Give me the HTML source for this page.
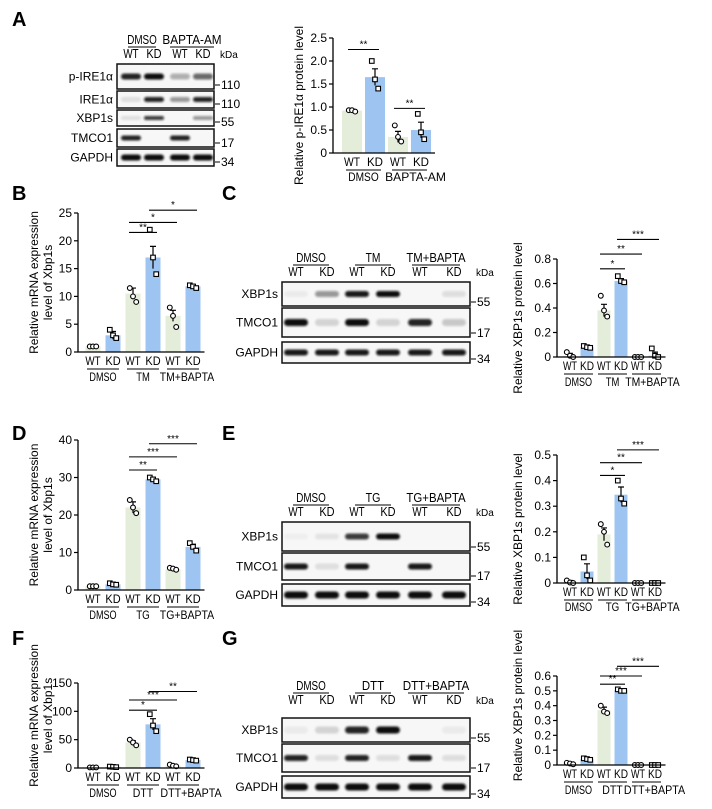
<!DOCTYPE html>
<html><head><meta charset="utf-8">
<style>
html,body{margin:0;padding:0;background:#fff;}
svg{display:block;font-family:"Liberation Sans",Arial,sans-serif;}
</style></head>
<body>
<svg id="fig" width="712" height="809" viewBox="0 0 712 809" xmlns="http://www.w3.org/2000/svg">
<defs><filter id="bl" x="-20%" y="-100%" width="140%" height="300%"><feGaussianBlur stdDeviation="1.1"/></filter></defs>
<g font-weight="bold" font-size="20">
<text x="12" y="26">A</text>
<text x="12" y="200">B</text>
<text x="222" y="200">C</text>
<text x="12" y="440">D</text>
<text x="222" y="440">E</text>
<text x="12" y="645">F</text>
<text x="222" y="645">G</text>
</g>
</svg>
<script>
// ---- chart data ----
const aMeans=[0.92,1.65,0.35,0.5];
const aErr=[0.03,0.18,0.12,0.17];
const aPts=[[0.93,0.93,0.9],[2.0,1.6,1.4],[0.6,0.35,0.25],[0.85,0.45,0.3]];
const aTicks=[0,0.5,1.0,1.5,2.0,2.5];
const aTickLabels=["0","0.5","1.0","1.5","2.0","2.5"];

const bMeans=[1,3,10.5,17,6.5,11.8];
const bErr=[0.1,0.7,1,2,1,0.3];
const bPts=[[1,1,1],[4,3,2.5],[11.5,10,9],[22,17,14],[8,6.5,4.5],[12,11.8,11.5]];
const bTicks=[0,5,10,15,20,25];

const cMeans=[0.01,0.08,0.38,0.62,0,0.01];
const cErr=[0.02,0.01,0.05,0.02,0,0.03];
const cPts=[[0.04,0.01,0],[0.09,0.08,0.075],[0.5,0.38,0.33],[0.66,0.62,0.61],[0,0,0],[0.07,0.01,0]];
const cTicks=[0,0.2,0.4,0.6,0.8];
const cTickLabels=["0","0.2","0.4","0.6","0.8"];

const dMeans=[1,1.5,22,29.5,5.5,11.5];
const dErr=[0.1,0.3,1.5,0.5,0.3,0.7];
const dPts=[[1,1,1],[1.8,1.5,1.4],[24,22,20.5],[30,29.5,29],[5.9,5.7,5.4],[12.5,11.5,10.5]];
const dTicks=[0,10,20,30,40];

const eMeans=[0.005,0.045,0.19,0.345,0,0];
const eErr=[0.005,0.03,0.025,0.03,0,0];
const ePts=[[0.01,0.002,0],[0.1,0.03,0.01],[0.23,0.2,0.15],[0.4,0.33,0.31],[0,0,0],[0,0,0]];
const eTicks=[0,0.1,0.2,0.3,0.4,0.5];
const eTickLabels=["0","0.1","0.2","0.3","0.4","0.5"];

const fMeans=[1,2,45,77,4,14];
const fErr=[0.2,0.5,3,10,1,1];
const fPts=[[1,1,1],[2.5,2,1.5],[50,45,40],[95,75,65],[6,4,3],[15,14,13]];
const fTicks=[0,50,100,150];

const gMeans=[0.01,0.04,0.37,0.505,0,0];
const gErr=[0.005,0.005,0.02,0.005,0,0];
const gPts=[[0.015,0.01,0.005],[0.045,0.04,0.035],[0.4,0.36,0.35],[0.51,0.5,0.5],[0,0,0],[0,0,0]];
const gTicks=[0,0.1,0.2,0.3,0.4,0.5,0.6];
const gTickLabels=["0","0.1","0.2","0.3","0.4","0.5","0.6"];

const svg=document.getElementById('fig');
const NS='http://www.w3.org/2000/svg';
function mk(tag,attrs,parent,txt){const e=document.createElementNS(NS,tag);for(const k in attrs)e.setAttribute(k,attrs[k]);if(txt!==undefined)e.textContent=txt;(parent||svg).appendChild(e);return e;}
function narrow(el,txt,per){el.setAttribute('textLength',(txt.length*per).toFixed(1));el.setAttribute('lengthAdjust','spacingAndGlyphs');}

function chart(o){
  const g=mk('g',{});
  
  
  const ymax=o.ticks[o.ticks.length-1];
  const Y=v=>o.y0-(v/ymax)*(o.y0-o.yTop);
  const X=i=>o.start+i*o.step;
  const xEnd=X(o.means.length-1)+o.w/2+4;
  o.means.forEach((m,i)=>{
    const r=mk('rect',{x:X(i)-o.w/2,y:Y(m),width:o.w,height:o.y0-Y(m),fill:i%2?'#9ec4f2':'#e3edd9'},g);
    
    
    const t=Y(m+o.err[i]),b=Y(Math.max(0,m-o.err[i]));
    mk('path',{d:`M${X(i)} ${t}V${b}M${X(i)-3} ${t}H${X(i)+3}`,stroke:'#000','stroke-width':1.2,fill:'none'},g);
    o.pts[i].forEach((p,j)=>{
      const px=X(i)+(j-1)*3.2,py=Y(p);
      if(i%2==0){const c=mk('circle',{cx:px,cy:py,r:2.4,fill:'#fff',stroke:'#000','stroke-width':1.1},g);
        }
      else{const s=mk('rect',{x:px-2.3,y:py-2.3,width:4.6,height:4.6,fill:'#fff',stroke:'#000','stroke-width':1.1},g);
        }
    });
  });
  mk('path',{d:`M${o.x0} ${o.yTop}V${o.y0}H${xEnd}`,stroke:'#000','stroke-width':1.3,fill:'none'},g);
  o.ticks.forEach((t,i)=>{
    mk('path',{d:`M${o.x0-4} ${Y(t)}H${o.x0}`,stroke:'#000','stroke-width':1.2},g);
    const tl=mk('text',{x:o.x0-6,y:Y(t)+4,'text-anchor':'end','font-size':12},g,o.tickLabels?o.tickLabels[i]:String(t));
    
  });
  o.means.forEach((m,i)=>{
    const s=o.labels[i%2];
    const l=mk('text',{x:X(i),y:o.labY,'text-anchor':'middle','font-size':12},g,s);
    narrow(l,s,o.cw);
    
  });
  o.groups.forEach((gn,k)=>{
    const cx=(X(2*k)+X(2*k+1))/2;
    const a=X(2*k)-6,bb=X(2*k+1)+6;
    mk('path',{d:`M${a} ${o.labY+4}H${bb}`,stroke:'#000','stroke-width':1},g);
    const gl=mk('text',{x:cx+(o.gshift?o.gshift[k]:0),y:o.grpY,'text-anchor':'middle','font-size':12},g,gn);
    narrow(gl,gn,o.gw);
    
  });
  o.sigs.forEach(s=>{
    const y=Y(s[3]);
    mk('path',{d:`M${X(s[0])-4} ${y}H${X(s[1])+4}`,stroke:'#000','stroke-width':1.1},g);
    const st=mk('text',{x:(X(s[0])+X(s[1]))/2,y:y-2,'text-anchor':'middle','font-size':10},g,s[2]);
    
  });
  const tg=mk('text',{transform:`translate(${o.tx},${(o.yTop+o.y0)/2+o.tyOff}) rotate(-90)`,'text-anchor':'middle','font-size':12},g);
  
  o.title.forEach((ln,i)=>{mk('tspan',{x:0,dy:i?14:0},tg,ln);});
}

chart({name:'chart-a',x0:333,yTop:38,y0:153,ticks:aTicks,tickLabels:aTickLabels,start:352,step:23,w:20,means:aMeans,err:aErr,pts:aPts,labels:['WT','KD'],groups:['DMSO','BAPTA-AM'],gshift:[0,6],labY:166,grpY:181,cw:8,gw:7.6,sigs:[[0,1,'**',2.25],[2,3,'**',0.97]],title:['Relative p-IRE1α protein level'],tx:303,tyOff:10});
chart({name:'chart-b',x0:78,yTop:213,y0:352,ticks:bTicks,start:93,step:20,w:15,means:bMeans,err:bErr,pts:bPts,labels:['WT','KD'],groups:['DMSO','TM','TM+BAPTA'],gshift:[0,0,4],labY:365,grpY:381,cw:7.6,gw:6.8,sigs:[[2,3,'**',21.5],[2,4,'*',23.3],[3,5,'*',25.5]],title:['Relative mRNA expression','level of Xbp1s'],tx:38,tyOff:0});
chart({name:'chart-c',x0:557,yTop:259,y0:357,ticks:cTicks,tickLabels:cTickLabels,start:570,step:17,w:13,means:cMeans,err:cErr,pts:cPts,labels:['WT','KD'],groups:['DMSO','TM','TM+BAPTA'],gshift:[0,0,6],labY:370,grpY:386,cw:7,gw:6.8,sigs:[[2,3,'*',0.72],[2,4,'**',0.84],[3,5,'***',0.96]],title:['Relative XBP1s protein level'],tx:522,tyOff:10});
chart({name:'chart-d',x0:78,yTop:440,y0:590,ticks:dTicks,start:93,step:20,w:15,means:dMeans,err:dErr,pts:dPts,labels:['WT','KD'],groups:['DMSO','TG','TG+BAPTA'],gshift:[0,0,4],labY:603,grpY:619,cw:7.6,gw:6.8,sigs:[[2,3,'**',32],[2,4,'***',35.5],[3,5,'***',39]],title:['Relative mRNA expression','level of Xbp1s'],tx:38,tyOff:0});
chart({name:'chart-e',x0:557,yTop:455,y0:583,ticks:eTicks,tickLabels:eTickLabels,start:570,step:17,w:13,means:eMeans,err:eErr,pts:ePts,labels:['WT','KD'],groups:['DMSO','TG','TG+BAPTA'],gshift:[0,0,6],labY:596,grpY:611,cw:7,gw:6.8,sigs:[[2,3,'*',0.42],[2,4,'**',0.47],[3,5,'***',0.52]],title:['Relative XBP1s protein level'],tx:522,tyOff:10});
chart({name:'chart-f',x0:78,yTop:683,y0:768,ticks:fTicks,start:93,step:20,w:15,means:fMeans,err:fErr,pts:fPts,labels:['WT','KD'],groups:['DMSO','DTT','DTT+BAPTA'],gshift:[0,0,8],labY:781,grpY:797,cw:7.6,gw:6.8,sigs:[[2,3,'*',102],[2,4,'***',120],[3,5,'**',135]],title:['Relative mRNA expression','level of Xbp1s'],tx:38,tyOff:-10});
chart({name:'chart-g',x0:557,yTop:676,y0:765,ticks:gTicks,tickLabels:gTickLabels,start:570,step:17,w:13,means:gMeans,err:gErr,pts:gPts,labels:['WT','KD'],groups:['DMSO','DTT','DTT+BAPTA'],gshift:[0,0,8],labY:778,grpY:794,cw:7,gw:6.8,sigs:[[2,3,'**',0.545],[2,4,'***',0.6],[3,5,'***',0.665]],title:['Relative XBP1s protein level'],tx:522,tyOff:-15});

// ---- western blots ----
function blot(o){
  const g=mk('g',{});
  
  
  o.headers.forEach(h=>{
    const t=mk('text',{x:h[1],y:o.hy,'text-anchor':'middle','font-size':12.5},g,h[0]);
    narrow(t,h[0],7.4);
    
    mk('path',{d:`M${h[1]-h[2]} ${o.hy+3}H${h[1]+h[2]}`,stroke:'#000','stroke-width':1},g);
  });
  o.lanes.forEach((x,i)=>{
    const s=i%2?'KD':'WT';
    const t=mk('text',{x:x,y:o.hy+14,'text-anchor':'middle','font-size':12.5},g,s);
    narrow(t,s,7.6);
    
  });
  const k=mk('text',{x:o.x+o.w+6,y:o.hy+14,'font-size':10},g,'kDa');
  
  o.rows.forEach(r=>{
    const [name,y,h,ints,mw,thick]=r;
    const box=mk('rect',{x:o.x,y:y,width:o.w,height:h,fill:'#f7f7f7',stroke:'#111','stroke-width':1.5},g);
    
    ints.forEach((v,i)=>{
      if(v<=0)return;
      mk('rect',{x:o.lanes[i]-o.bw/2,y:y+h/2-thick/2,width:o.bw,height:thick,rx:thick/2,fill:'#111',opacity:v,filter:'url(#bl)'},g);
    });
    const l=mk('text',{x:o.x-4,y:y+h/2+4,'text-anchor':'end','font-size':12},g,name);
    
    mk('path',{d:`M${o.x+o.w+1} ${y+h-4}H${o.x+o.w+6}`,stroke:'#000','stroke-width':1},g);
    const m=mk('text',{x:o.x+o.w+7,y:y+h,'font-size':12},g,mw);
    
  });
}
blot({name:'blot-a',x:117,w:97,bw:20,hy:44,lanes:[131,154,180,203],
  headers:[['DMSO',142,14],['BAPTA-AM',192,22]],
  rows:[['p-IRE1α',64,25,[0.9,1,0.3,0.6],'110',6],['IRE1α',91,17,[0.1,0.9,0.4,0.9],'110',5],['XBP1s',110,16,[0.1,0.8,0,0.4],'55',4],['TMCO1',129,18,[0.9,0,0.9,0],'17',5],['GAPDH',149,17,[1,1,1,1],'34',6]]});
const lanes6=[296,327,357,388,420,454];
blot({name:'blot-c',x:282,w:188,bw:24,hy:262,lanes:lanes6,
  headers:[['DMSO',311,18],['TM',373,18],['TM+BAPTA',436,24]],
  rows:[['XBP1s',282,24,[0.05,0.4,0.95,1,0,0.1],'55',6],['TMCO1',308,29,[1,0.15,1,0.15,0.9,0.2],'17',7],['GAPDH',342,21,[0.95,0.95,0.95,0.95,0.95,0.95],'34',6]]});
blot({name:'blot-e',x:282,w:188,bw:24,hy:502,lanes:lanes6,
  headers:[['DMSO',311,18],['TG',373,18],['TG+BAPTA',436,24]],
  rows:[['XBP1s',522,29,[0.03,0.08,0.8,1,0,0],'55',6],['TMCO1',553,27,[0.95,0.1,0.95,0,0.95,0],'17',6],['GAPDH',584,22,[1,1,1,1,1,1],'34',7]]});
blot({name:'blot-g',x:282,w:188,bw:24,hy:690,lanes:lanes6,
  headers:[['DMSO',311,18],['DTT',373,18],['DTT+BAPTA',436,28]],
  rows:[['XBP1s',718,24,[0.05,0.15,0.9,1,0,0.05],'55',7],['TMCO1',744,28,[0.9,0.1,0.9,0.1,0.95,0.1],'17',6],['GAPDH',776,22,[1,1,1,1,1,1],'34',7]]});
</script>
</body></html>
